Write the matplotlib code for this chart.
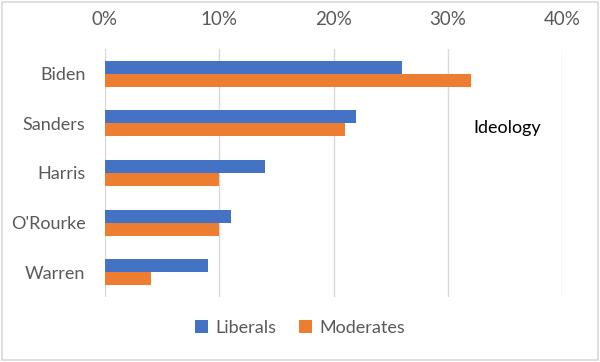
import matplotlib
matplotlib.use("Agg")
import matplotlib.pyplot as plt
import matplotlib.ticker as ticker
from matplotlib.patches import Rectangle, Patch
import numpy as np

plt.rcParams["font.family"] = ["Lato", "DejaVu Sans"]

# ---------------------------------------------------------------------------
# Data
# ---------------------------------------------------------------------------
candidates = ["Biden", "Sanders", "Harris", "O'Rourke", "Warren"]
liberals   = [0.26, 0.22, 0.14, 0.11, 0.09]
moderates  = [0.32, 0.21, 0.10, 0.10, 0.04]
series_names = ["Liberals", "Moderates"]
x_ticks = [0.0, 0.1, 0.2, 0.3, 0.4]

BLUE   = "#4472C4"
ORANGE = "#ED7D31"
GRID   = "#D9D9D9"
TEXT   = "#595959"

fig = plt.figure(figsize=(6.0, 3.62), dpi=100)
# plot area: x 105..562 px, y 49..297 px
ax = fig.add_axes([105 / 600, 1 - 297 / 362, 457 / 600, 248 / 362])

y = np.arange(len(candidates))
h = 0.262
ax.barh(y - h / 2, liberals, height=h, color=BLUE, label=series_names[0], zorder=3)
ax.barh(y + h / 2, moderates, height=h, color=ORANGE, label=series_names[1], zorder=3)

ax.set_xlim(0, 0.4)
ax.set_ylim(len(candidates) - 0.5, -0.5)
ax.set_xticks(x_ticks)
ax.xaxis.set_major_formatter(ticker.PercentFormatter(1.0, decimals=0))
ax.xaxis.tick_top()
ax.tick_params(axis="x", length=0, pad=15, labelsize=13.5, colors=TEXT)
ax.set_yticks(y)
ax.set_yticklabels(candidates)
ax.tick_params(axis="y", length=0, pad=14, labelsize=13, colors=TEXT)
ax.grid(axis="x", color=GRID, lw=1.0, zorder=0)
for s in ax.spines.values():
    s.set_visible(False)

ax.text(0.352, 1.1, "Ideology", fontsize=13, color="black",
        ha="center", va="center", transform=ax.transData)

handles = [Patch(facecolor=BLUE, label=series_names[0]),
           Patch(facecolor=ORANGE, label=series_names[1])]
fig.legend(handles=handles, loc="center", bbox_to_anchor=(0.5, 0.094),
           ncol=2, frameon=False, fontsize=13, handlelength=0.7,
           handleheight=0.7, handletextpad=0.4, columnspacing=1.3,
           labelcolor=TEXT)

# outer chart-area border
fig.patches.append(Rectangle((2 / 600, 1 - 360 / 362), 596 / 600, 358 / 362,
                             transform=fig.transFigure, fill=False,
                             edgecolor=GRID, lw=1.2))

fig.savefig("out.png", dpi=100)
